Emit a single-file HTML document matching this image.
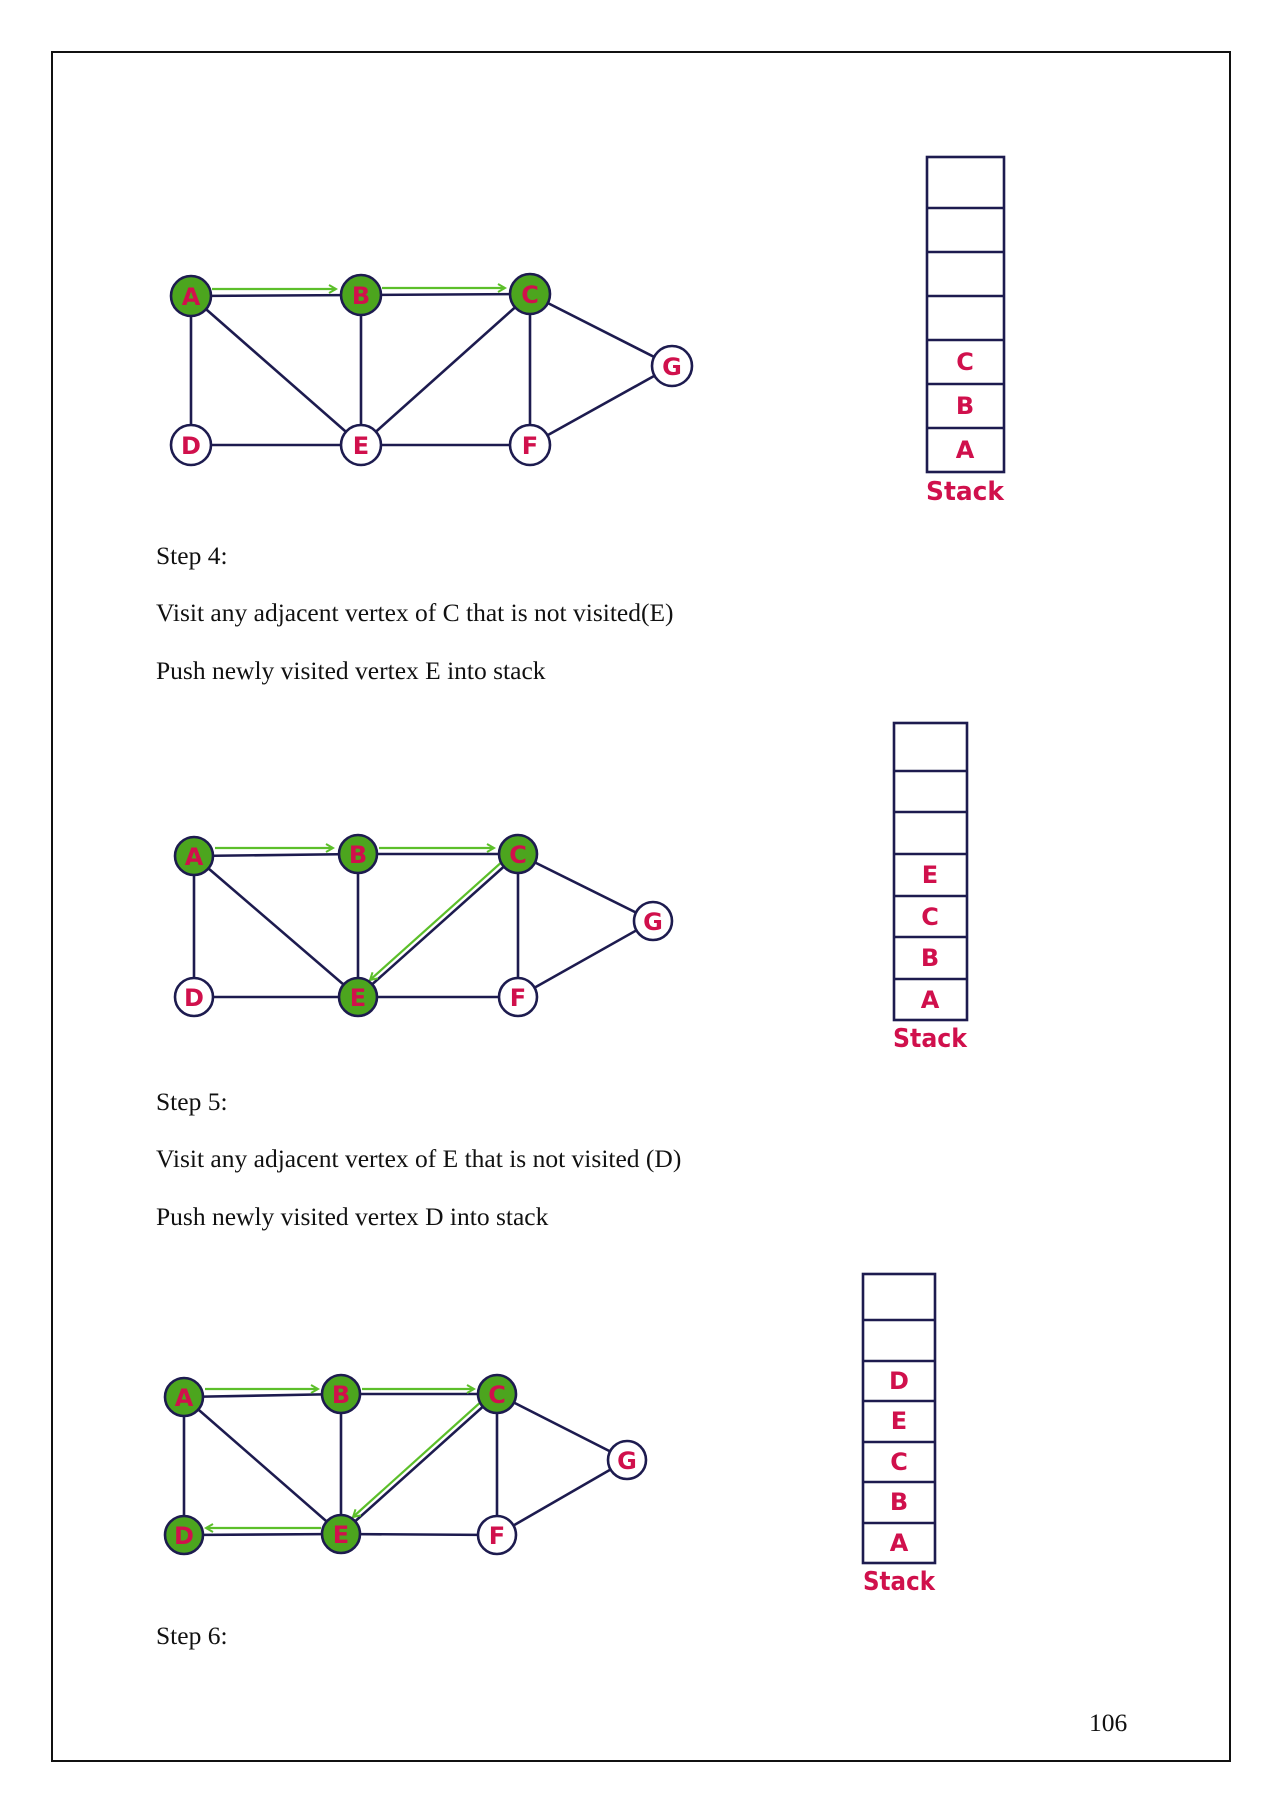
<!DOCTYPE html>
<html><head><meta charset="utf-8"><style>
html,body{margin:0;padding:0;background:#fff}
svg{display:block}
.e{stroke:#1d1b4f;stroke-width:2.6;fill:none}
.g{stroke:#5cbf2a;stroke-width:2.2;fill:none}
.n{stroke:#1d1b4f;stroke-width:2.6}
.l{font-family:"DejaVu Sans","Liberation Sans",sans-serif;font-weight:bold;font-size:24px;fill:#d0104c;text-anchor:middle;dominant-baseline:central}
.s{font-family:"DejaVu Sans","Liberation Sans",sans-serif;font-weight:bold;font-size:26px;fill:#d0104c;text-anchor:middle}
.t{font-family:"Liberation Serif",serif;font-size:25.5px;fill:#111}
.b{stroke:#1d1b4f;stroke-width:2.6;fill:#fff}
</style></head><body>
<svg width="1273" height="1800" viewBox="0 0 1273 1800">
<defs><marker id="ah" markerWidth="10" markerHeight="10" refX="8" refY="5" orient="auto" markerUnits="userSpaceOnUse"><path d="M1,1 L8,5 L1,9" stroke="#5cbf2a" stroke-width="2" fill="none"/></marker></defs>
<rect x="52" y="52" width="1178" height="1709" fill="none" stroke="#111" stroke-width="2"/>

<!-- Graph 1 -->
<g>
<line class="e" x1="191" y1="296" x2="361" y2="295"/><line class="e" x1="361" y1="295" x2="530" y2="294"/>
<line class="e" x1="191" y1="296" x2="191" y2="445"/><line class="e" x1="191" y1="296" x2="361" y2="445"/>
<line class="e" x1="361" y1="295" x2="361" y2="445"/><line class="e" x1="530" y1="294" x2="361" y2="445"/>
<line class="e" x1="530" y1="294" x2="530" y2="445"/><line class="e" x1="530" y1="294" x2="672" y2="366"/>
<line class="e" x1="530" y1="445" x2="672" y2="366"/><line class="e" x1="191" y1="445" x2="361" y2="445"/>
<line class="e" x1="361" y1="445" x2="530" y2="445"/>
<line class="g" x1="212" y1="289" x2="336" y2="289" marker-end="url(#ah)"/>
<line class="g" x1="382" y1="288" x2="505" y2="288" marker-end="url(#ah)"/>
<circle class="n" cx="191" cy="296" r="20" fill="#4ca51e"/><text class="l" x="191" y="297">A</text>
<circle class="n" cx="361" cy="295" r="20" fill="#4ca51e"/><text class="l" x="361" y="296">B</text>
<circle class="n" cx="530" cy="294" r="20" fill="#4ca51e"/><text class="l" x="530" y="295">C</text>
<circle class="n" cx="672" cy="366" r="20" fill="#fff"/><text class="l" x="672" y="367">G</text>
<circle class="n" cx="191" cy="445" r="20" fill="#fff"/><text class="l" x="191" y="446">D</text>
<circle class="n" cx="361" cy="445" r="20" fill="#fff"/><text class="l" x="361" y="446">E</text>
<circle class="n" cx="530" cy="445" r="20" fill="#fff"/><text class="l" x="530" y="446">F</text>
</g>
<!-- Stack 1 -->
<g>
<rect class="b" x="927" y="157" width="77" height="315"/>
<line class="e" x1="927" y1="208" x2="1004" y2="208"/><line class="e" x1="927" y1="252" x2="1004" y2="252"/>
<line class="e" x1="927" y1="296" x2="1004" y2="296"/><line class="e" x1="927" y1="340" x2="1004" y2="340"/>
<line class="e" x1="927" y1="384" x2="1004" y2="384"/><line class="e" x1="927" y1="428" x2="1004" y2="428"/>
<text class="l" x="965" y="362">C</text><text class="l" x="965" y="406">B</text><text class="l" x="965" y="450">A</text>
<text class="s" x="965" y="500" textLength="78" lengthAdjust="spacingAndGlyphs">Stack</text>
</g>
<text class="t" x="156" y="564">Step 4:</text>
<text class="t" x="156" y="621">Visit any adjacent vertex of C that is not visited(E)</text>
<text class="t" x="156" y="679">Push newly visited vertex E into stack</text>

<!-- Graph 2 -->
<g>
<line class="e" x1="194" y1="856" x2="358" y2="854"/><line class="e" x1="358" y1="854" x2="518" y2="854"/>
<line class="e" x1="194" y1="856" x2="194" y2="997"/><line class="e" x1="194" y1="856" x2="358" y2="997"/>
<line class="e" x1="358" y1="854" x2="358" y2="997"/><line class="e" x1="518" y1="854" x2="358" y2="997"/>
<line class="e" x1="518" y1="854" x2="518" y2="997"/><line class="e" x1="518" y1="854" x2="653" y2="921"/>
<line class="e" x1="518" y1="997" x2="653" y2="921"/><line class="e" x1="194" y1="997" x2="358" y2="997"/>
<line class="e" x1="358" y1="997" x2="518" y2="997"/>
<line class="g" x1="215" y1="848" x2="333" y2="848" marker-end="url(#ah)"/>
<line class="g" x1="379" y1="848" x2="494" y2="848" marker-end="url(#ah)"/>
<line class="g" x1="504" y1="860" x2="370" y2="980" marker-end="url(#ah)"/>
<circle class="n" cx="194" cy="856" r="19" fill="#4ca51e"/><text class="l" x="194" y="857">A</text>
<circle class="n" cx="358" cy="854" r="19" fill="#4ca51e"/><text class="l" x="358" y="855">B</text>
<circle class="n" cx="518" cy="854" r="19" fill="#4ca51e"/><text class="l" x="518" y="855">C</text>
<circle class="n" cx="653" cy="921" r="19" fill="#fff"/><text class="l" x="653" y="922">G</text>
<circle class="n" cx="194" cy="997" r="19" fill="#fff"/><text class="l" x="194" y="998">D</text>
<circle class="n" cx="358" cy="997" r="19" fill="#4ca51e"/><text class="l" x="358" y="998">E</text>
<circle class="n" cx="518" cy="997" r="19" fill="#fff"/><text class="l" x="518" y="998">F</text>
</g>
<!-- Stack 2 -->
<g>
<rect class="b" x="894" y="723" width="73" height="297"/>
<line class="e" x1="894" y1="771" x2="967" y2="771"/><line class="e" x1="894" y1="812" x2="967" y2="812"/>
<line class="e" x1="894" y1="854" x2="967" y2="854"/><line class="e" x1="894" y1="896" x2="967" y2="896"/>
<line class="e" x1="894" y1="937" x2="967" y2="937"/><line class="e" x1="894" y1="979" x2="967" y2="979"/>
<text class="l" x="930" y="875">E</text><text class="l" x="930" y="917">C</text><text class="l" x="930" y="958">B</text><text class="l" x="930" y="1000">A</text>
<text class="s" x="930" y="1047" textLength="74" lengthAdjust="spacingAndGlyphs">Stack</text>
</g>
<text class="t" x="156" y="1110">Step 5:</text>
<text class="t" x="156" y="1167">Visit any adjacent vertex of E that is not visited (D)</text>
<text class="t" x="156" y="1225">Push newly visited vertex D into stack</text>

<!-- Graph 3 -->
<g>
<line class="e" x1="184" y1="1397" x2="341" y2="1394"/><line class="e" x1="341" y1="1394" x2="497" y2="1394"/>
<line class="e" x1="184" y1="1397" x2="184" y2="1535"/><line class="e" x1="184" y1="1397" x2="341" y2="1534"/>
<line class="e" x1="341" y1="1394" x2="341" y2="1534"/><line class="e" x1="497" y1="1394" x2="341" y2="1534"/>
<line class="e" x1="497" y1="1394" x2="497" y2="1535"/><line class="e" x1="497" y1="1394" x2="627" y2="1460"/>
<line class="e" x1="497" y1="1535" x2="627" y2="1460"/><line class="e" x1="184" y1="1535" x2="341" y2="1534"/>
<line class="e" x1="341" y1="1534" x2="497" y2="1535"/>
<line class="g" x1="205" y1="1389" x2="318" y2="1389" marker-end="url(#ah)"/>
<line class="g" x1="362" y1="1389" x2="474" y2="1389" marker-end="url(#ah)"/>
<line class="g" x1="483" y1="1400" x2="353" y2="1517" marker-end="url(#ah)"/>
<line class="g" x1="321" y1="1528" x2="206" y2="1528" marker-end="url(#ah)"/>
<circle class="n" cx="184" cy="1397" r="19" fill="#4ca51e"/><text class="l" x="184" y="1398">A</text>
<circle class="n" cx="341" cy="1394" r="19" fill="#4ca51e"/><text class="l" x="341" y="1395">B</text>
<circle class="n" cx="497" cy="1394" r="19" fill="#4ca51e"/><text class="l" x="497" y="1395">C</text>
<circle class="n" cx="627" cy="1460" r="19" fill="#fff"/><text class="l" x="627" y="1461">G</text>
<circle class="n" cx="184" cy="1535" r="19" fill="#4ca51e"/><text class="l" x="184" y="1536">D</text>
<circle class="n" cx="341" cy="1534" r="19" fill="#4ca51e"/><text class="l" x="341" y="1535">E</text>
<circle class="n" cx="497" cy="1535" r="19" fill="#fff"/><text class="l" x="497" y="1536">F</text>
</g>
<!-- Stack 3 -->
<g>
<rect class="b" x="863" y="1274" width="72" height="289"/>
<line class="e" x1="863" y1="1320" x2="935" y2="1320"/><line class="e" x1="863" y1="1361" x2="935" y2="1361"/>
<line class="e" x1="863" y1="1401" x2="935" y2="1401"/><line class="e" x1="863" y1="1442" x2="935" y2="1442"/>
<line class="e" x1="863" y1="1482" x2="935" y2="1482"/><line class="e" x1="863" y1="1523" x2="935" y2="1523"/>
<text class="l" x="899" y="1381">D</text><text class="l" x="899" y="1421">E</text><text class="l" x="899" y="1462">C</text><text class="l" x="899" y="1502">B</text><text class="l" x="899" y="1543">A</text>
<text class="s" x="899" y="1590" textLength="72" lengthAdjust="spacingAndGlyphs">Stack</text>
</g>
<text class="t" x="156" y="1644">Step 6:</text>
<text class="t" x="1089" y="1731">106</text>
</svg>
</body></html>
